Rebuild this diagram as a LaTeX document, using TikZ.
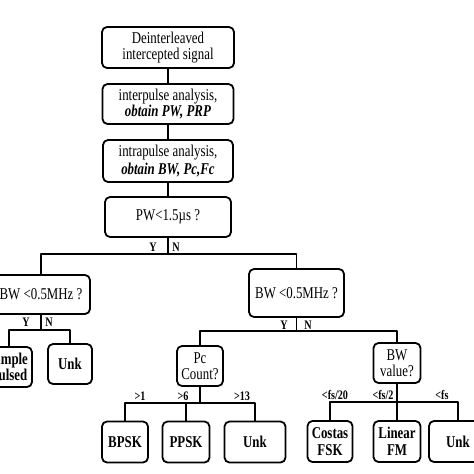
\documentclass[tikz,border=0pt]{standalone}
\usepackage{fontspec}
\setmainfont{Liberation Serif}[FakeStretch=0.78]
\begin{document}
\begin{tikzpicture}[x=1pt, y=-1pt, line width=1.8pt, line join=round, line cap=round,
box/.style={draw, rounded corners=5pt, inner sep=0pt, align=center, font=\fontsize{16.5}{16.5}\selectfont},
leaf/.style={box, font=\fontsize{16.5}{16.5}\selectfont\bfseries},
lbl/.style={inner sep=0pt, anchor=base, font=\fontsize{13}{13}\selectfont\bfseries}]
\useasboundingbox (0,0) rectangle (474,474);
% main column
\node[box, minimum width=132, minimum height=41] (sig) at (168,47.5) {Deinterleaved\\intercepted signal};
\node[box, minimum width=131, minimum height=40] (inter) at (168,104) {interpulse analysis,\\\textbf{\textit{obtain PW, PRP}}};
\node[box, minimum width=130, minimum height=42] (intra) at (168,161) {intrapulse analysis,\\[2pt]\textbf{\textit{obtain BW, Pc,Fc}}};
\node[box, minimum width=126, minimum height=40] (pw) at (168,217) {PW<1.5µs ?};
% second level
\node[box, minimum width=98, minimum height=39] (bwl) at (41,294.5) {BW <0.5MHz ?};
\node[box, minimum width=95, minimum height=48] (bwr) at (296.5,293) {BW <0.5MHz ?};
\node[leaf, minimum width=46, minimum height=40] (simp) at (9,367) {Simple\\Pulsed};
\node[leaf, minimum width=44, minimum height=40] (unka) at (70,364) {Unk};
\node[box, minimum width=46, minimum height=40] (pc) at (200,366) {Pc\\Count?};
\node[box, minimum width=47, minimum height=40] (bwv) at (397,363) {BW\\value?};
% leaves
\node[leaf, minimum width=46, minimum height=41] (bpsk) at (125,442) {BPSK};
\node[leaf, minimum width=47, minimum height=41] (ppsk) at (186,442) {PPSK};
\node[leaf, minimum width=61, minimum height=41] (unkb) at (255,442) {Unk};
\node[leaf, minimum width=45, minimum height=41] (costas) at (330,441.5) {Costas\\FSK};
\node[leaf, minimum width=47, minimum height=41] (lfm) at (397,441.5) {Linear\\FM};
\node[leaf, minimum width=58, minimum height=41] (unkc) at (458,441.5) {Unk};
% junctions
\coordinate (j1) at (168,254);
\coordinate (j2) at (41,330);
\coordinate (j3) at (296.5,331);
\coordinate (j4) at (200,403);
\coordinate (j5) at (397,402);
\draw (sig) -- (inter);
\draw (inter) -- (intra);
\draw (intra) -- (pw);
\draw (pw) -- (j1);
\draw (bwl.north) |- (j1) -| (bwr.north);
\draw (bwl) -- (j2);
\draw (simp.north) |- (j2) -| (unka.north);
\draw (bwr) -- (j3);
\draw (pc.north) |- (j3) -| (bwv.north);
\draw (pc) -- (j4);
\draw (bpsk.north) |- (j4) -| (unkb.north);
\draw (ppsk.north) |- (j4);
\draw (bwv) -- (j5);
\draw (costas.north) |- (j5) -| (unkc.north);
\draw (lfm) -- (j5);
% branch labels
\node[lbl] (y1) at (153,251) {Y};
\node[lbl] (n1) at (176,251) {N};
\node[lbl] (y2) at (26,326) {Y};
\node[lbl] (n2) at (49,326) {N};
\node[lbl] (y3) at (284,329) {Y};
\node[lbl] (n3) at (308,329) {N};
\node[lbl] (p1) at (140,400) {>1};
\node[lbl] (p6) at (183,400) {>6};
\node[lbl] (p13) at (242,400) {>13};
\node[lbl] (f20) at (335,399) {<fs/20};
\node[lbl] (f2) at (383,399) {<fs/2};
\node[lbl] (f1) at (442,399) {<fs};
\end{tikzpicture}
\end{document}
